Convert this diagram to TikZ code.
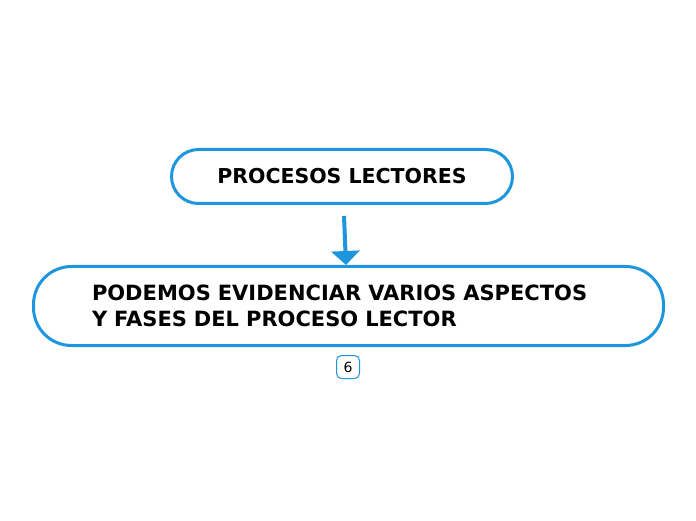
\documentclass[tikz,border=0pt]{standalone}
\usepackage{fontspec}
\setmainfont{DejaVu Sans}
\usetikzlibrary{arrows.meta}
\definecolor{mapblue}{RGB}{30,150,222}
\tikzset{
	topicbox/.style={draw=mapblue, line width=3pt, fill=white, font=\bfseries\fontsize{21}{25.5}\selectfont},
	countbox/.style={draw=mapblue, line width=1pt, rounded corners=5pt, minimum width=23pt, minimum height=23pt, inner sep=0pt, font=\fontsize{14}{16}\selectfont},
	linkarrow/.style={draw=mapblue, line width=4pt, -{Triangle[width=28pt,length=14pt]}}
}

\begin{document}
\begin{tikzpicture}[x=1pt,y=1pt]
		%%%%% START %%%%%
		\useasboundingbox[fill=white] (0, 0) rectangle (696, 520);
		
		\node[topicbox, font=\bfseries\fontsize{20.5}{25}\selectfont, rounded corners=27pt, minimum width=341pt, minimum height=54pt] (procesos) at (342, 343.5) {PROCESOS LECTORES};
		
		\node[topicbox, rounded corners=38pt, minimum width=630pt, minimum height=79pt, align=left, text width=513pt] (aspectos) at (348.5, 214) {PODEMOS EVIDENCIAR VARIOS ASPECTOS\\Y FASES DEL PROCESO LECTOR};
		
		\node[countbox] (cuenta) at (348, 153) {6};
		
		\draw[linkarrow] ([xshift=2pt, yshift=-11pt]procesos.south) -- ([xshift=-2.5pt]aspectos.north);
		
		%%%%% END %%%%%
	\end{tikzpicture}
\end{document}
